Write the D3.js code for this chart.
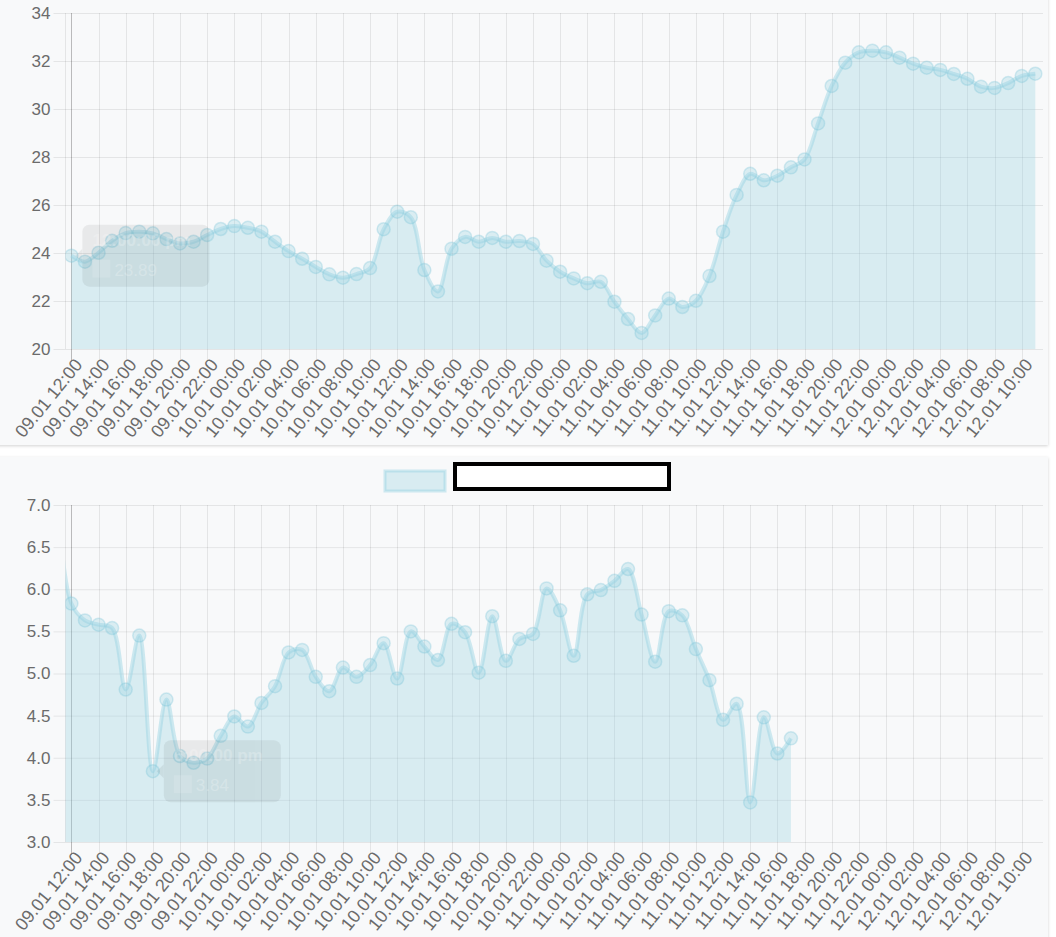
<!DOCTYPE html>
<html>
<head>
<meta charset="utf-8">
<script src="https://cdn.jsdelivr.net/npm/d3@7"></script>
<style>
  html, body { margin: 0; padding: 0; background: #fff; overflow: hidden; }
  body { width: 1056px; height: 937px; position: relative; font-family: "Liberation Sans", Arial, sans-serif; }
  .card { position: absolute; background: #f8f9fa; box-shadow: 0 1px 3px rgba(0,0,0,0.18); }
  svg { position: absolute; left: 0; top: 0; }
</style>
</head>
<body>
<div class="card" style="left:-10px; top:-60px; width:1058px; height:505px;"></div>
<div class="card" style="left:-10px; top:457px; width:1058px; height:500px;"></div>
<svg id="chart"></svg>
<script>
// hourly readings, first chart starts 09.01 12:00
const tempStart = new Date(2020, 0, 9, 12);
const tempValues = [
  23.89, 23.64, 24.01, 24.51, 24.83, 24.89, 24.82, 24.58, 24.40, 24.47,
  24.75, 25.00, 25.12, 25.05, 24.89, 24.47, 24.08, 23.76, 23.42, 23.11,
  22.97, 23.12, 23.37, 24.99, 25.72, 25.49, 23.29, 22.40, 24.18, 24.67,
  24.47, 24.63, 24.47, 24.50, 24.38, 23.68, 23.22, 22.94, 22.74, 22.80,
  21.97, 21.25, 20.67, 21.40, 22.10, 21.75, 22.01, 23.04, 24.89, 26.42,
  27.30, 27.03, 27.22, 27.57, 27.90, 29.40, 30.96, 31.93, 32.36, 32.43,
  32.36, 32.14, 31.89, 31.72, 31.63, 31.46, 31.26, 30.93, 30.88, 31.08,
  31.38, 31.47
];
const tempTicks = [20, 22, 24, 26, 28, 30, 32, 34];

// second chart starts one hour earlier (that point is cut off by the plot edge)
const secondStart = new Date(2020, 0, 9, 11);
const secondValues = [
  7.00,
  5.83, 5.63, 5.58, 5.54, 4.81, 5.45, 3.84, 4.69, 4.02, 3.94,
  3.99, 4.26, 4.49, 4.37, 4.65, 4.85, 5.25, 5.28, 4.96, 4.79,
  5.07, 4.96, 5.10, 5.36, 4.94, 5.50, 5.32, 5.16, 5.59, 5.49,
  5.01, 5.68, 5.15, 5.41, 5.47, 6.01, 5.75, 5.21, 5.94, 5.99,
  6.10, 6.24, 5.70, 5.14, 5.74, 5.69, 5.29, 4.92, 4.45, 4.64,
  3.47, 4.48, 4.05, 4.23
];
const secondTicks = [3.0, 3.5, 4.0, 4.5, 5.0, 5.5, 6.0, 6.5, 7.0];

// visible time window
const timeDomain = [new Date(2020, 0, 9, 11, 34), new Date(2020, 0, 12, 11, 34)];

const width = 1056, height = 937;
const fillColor = "rgba(150, 208, 224, 0.32)";
const lineColor = "rgba(150, 210, 226, 0.45)";
const pointFill = "rgba(150, 210, 226, 0.3)";
const pointStroke = "rgba(120, 195, 215, 0.3)";
const gridColor = "rgba(0,0,0,0.08)";
const textColor = "#6b6b6b";

const svg = d3.select("#chart")
  .attr("width", width)
  .attr("height", height)
  .attr("viewBox", [0, 0, width, height]);

function TimeChart(values, start, {
  top, bottom, left = 65.5, right = 1043,
  ticks, format = d => d,
  tooltip = null, id
}) {
  const data = values.map((v, i) => ({ date: d3.timeHour.offset(start, i), value: v }));

  const x = d3.scaleTime().domain(timeDomain).range([left, right]);
  const y = d3.scaleLinear().domain(d3.extent(ticks)).range([bottom, top]);

  const g = svg.append("g");

  // horizontal grid lines + y labels
  g.append("g")
    .selectAll("line")
    .data(ticks)
    .join("line")
    .attr("x1", left - 12).attr("x2", right)
    .attr("y1", d => y(d) + 0.5).attr("y2", d => y(d) + 0.5)
    .attr("stroke", gridColor);

  g.append("g")
    .selectAll("text")
    .data(ticks)
    .join("text")
    .attr("x", left - 15)
    .attr("y", d => y(d))
    .attr("dy", "0.35em")
    .attr("text-anchor", "end")
    .attr("fill", textColor)
    .style("font-size", "17px")
    .text(format);

  // vertical grid lines, every 2 hours
  const xTicks = x.ticks(d3.timeHour.every(2));
  g.append("line")
    .attr("x1", left).attr("x2", left)
    .attr("y1", top).attr("y2", bottom)
    .attr("stroke", gridColor);

  g.append("g")
    .selectAll("line")
    .data(xTicks)
    .join("line")
    .attr("x1", d => Math.round(x(d)) + 0.5).attr("x2", d => Math.round(x(d)) + 0.5)
    .attr("y1", top).attr("y2", bottom + 13)
    .attr("stroke", (d, i) => i === 0 ? "rgba(0,0,0,0.25)" : gridColor);

  const fmt = d3.timeFormat("%d.%m %H:%M");
  g.append("g")
    .selectAll("text")
    .data(xTicks)
    .join("text")
    .attr("transform", d => `translate(${x(d) + 7},${bottom + 12}) rotate(-51)`)
    .attr("text-anchor", "end")
    .attr("dy", "0.35em")
    .attr("fill", textColor)
    .style("font-size", "18px")
    .text(fmt);

  // clip everything to the plot area
  g.append("clipPath")
    .attr("id", id)
    .append("rect")
    .attr("x", left).attr("y", top - 8)
    .attr("width", right - left).attr("height", bottom - top + 8);

  const plot = g.append("g").attr("clip-path", `url(#${id})`);

  const curve = d3.curveCatmullRom.alpha(0.5);

  plot.append("path")
    .datum(data)
    .attr("fill", fillColor)
    .attr("d", d3.area()
      .x(d => x(d.date))
      .y0(bottom)
      .y1(d => y(d.value))
      .curve(curve));

  plot.append("path")
    .datum(data)
    .attr("fill", "none")
    .attr("stroke", lineColor)
    .attr("stroke-width", 4)
    .attr("d", d3.line()
      .x(d => x(d.date))
      .y(d => y(d.value))
      .curve(curve));

  plot.append("g")
    .selectAll("circle")
    .data(data)
    .join("circle")
    .attr("cx", d => x(d.date))
    .attr("cy", d => y(d.value))
    .attr("r", 6.5)
    .attr("fill", pointFill)
    .attr("stroke", pointStroke)
    .attr("stroke-width", 1.5);

  // faded tooltip left over on the chart
  if (tooltip) {
    const p = data[tooltip.index];
    const px = x(p.date), py = y(p.value);
    const bx = px + 11, bw = tooltip.width, bh = 62, by = py - bh / 2;
    const tip = g.append("g").attr("opacity", 0.06);
    tip.append("rect")
      .attr("x", bx).attr("y", by)
      .attr("width", bw).attr("height", bh)
      .attr("rx", 7)
      .attr("fill", "#000");
    tip.append("path")
      .attr("d", `M${bx},${py - 7}L${bx - 7},${py}L${bx},${py + 7}Z`)
      .attr("fill", "#000");
    const txt = g.append("g").attr("opacity", 0.22);
    txt.append("text")
      .attr("x", bx + 10).attr("y", by + 21)
      .attr("fill", "#fff")
      .style("font-size", "17px")
      .style("font-weight", "bold")
      .text(tooltip.title);
    txt.append("rect")
      .attr("x", bx + 10).attr("y", by + 35)
      .attr("width", 18).attr("height", 18)
      .attr("fill", "#fff").attr("fill-opacity", 0.6);
    txt.append("text")
      .attr("x", bx + 32).attr("y", by + 51)
      .attr("fill", "#fff")
      .style("font-size", "17px")
      .text(d3.format(".2f")(p.value));
  }
}

TimeChart(tempValues, tempStart, {
  top: 13, bottom: 349, ticks: tempTicks, id: "clip-a",
  tooltip: { index: 0, width: 127, title: "12:00:00 pm" }
});

TimeChart(secondValues, secondStart, {
  top: 505, bottom: 842, ticks: secondTicks, id: "clip-b",
  format: d3.format(".1f"),
  tooltip: { index: 7, width: 117, title: "6:00:00 pm" }
});

// legend of the second chart (label hidden behind a box)
const legend = svg.append("g");
legend.append("rect")
  .attr("x", 385).attr("y", 471)
  .attr("width", 60).attr("height", 20)
  .attr("fill", fillColor)
  .attr("stroke", lineColor)
  .attr("stroke-width", 3);
legend.append("rect")
  .attr("x", 455).attr("y", 464)
  .attr("width", 214).attr("height", 25)
  .attr("fill", "#fff")
  .attr("stroke", "#000")
  .attr("stroke-width", 4);
</script>
</body>
</html>
